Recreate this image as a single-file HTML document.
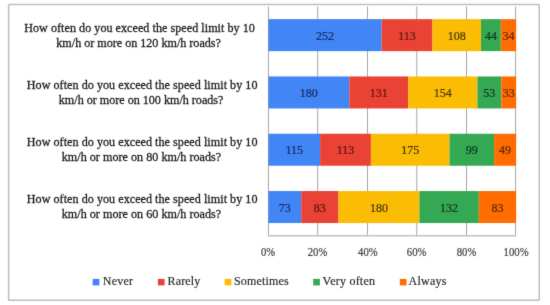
<!DOCTYPE html><html><head><meta charset="utf-8"><title>chart</title><style>html,body{margin:0;padding:0;background:#fff}svg{display:block}text{font-family:"Liberation Serif",serif;stroke-width:0.28px;paint-order:stroke fill}.c{fill:#1c1c1c;stroke:#1c1c1c}.d{fill:#222;stroke:#222;stroke-width:0.22px}.a{fill:#404040;stroke:#404040;stroke-width:0.22px}.l{fill:#2a2a2a;stroke:#2a2a2a;stroke-width:0.18px}</style></head><body>
<svg width="550" height="305" viewBox="0 0 550 305">
<defs><filter id="sf" x="0" y="0" width="550" height="305" filterUnits="userSpaceOnUse" color-interpolation-filters="sRGB"><feConvolveMatrix order="3" kernelMatrix="0.015 0.065 0.015 0.065 0.68 0.065 0.015 0.065 0.015" divisor="1" edgeMode="duplicate" preserveAlpha="true"/></filter></defs>
<g filter="url(#sf)">
<rect x="0" y="0" width="550" height="305" fill="#fff"/>
<rect x="8.6" y="4.55" width="530.65" height="295.65" rx="0.8" fill="#fff" stroke="#bebebe" stroke-width="1.5"/>
<line x1="268.45" y1="6.5" x2="268.45" y2="236.29999999999998" stroke="#a6a6a6" stroke-width="1"/>
<line x1="317.70" y1="6.5" x2="317.70" y2="236.29999999999998" stroke="#a6a6a6" stroke-width="1"/>
<line x1="367.50" y1="6.5" x2="367.50" y2="236.29999999999998" stroke="#a6a6a6" stroke-width="1"/>
<line x1="416.75" y1="6.5" x2="416.75" y2="236.29999999999998" stroke="#a6a6a6" stroke-width="1"/>
<line x1="466.50" y1="6.5" x2="466.50" y2="236.29999999999998" stroke="#a6a6a6" stroke-width="1"/>
<line x1="515.60" y1="6.5" x2="515.60" y2="236.29999999999998" stroke="#a6a6a6" stroke-width="1"/>
<line x1="267.9" y1="235.79999999999998" x2="516.1" y2="235.79999999999998" stroke="#c4c4c4" stroke-width="1.4"/>
<rect x="268.40" y="19.15" width="113.29" height="32.0" fill="#4285F4"/>
<text x="325.04" y="39.65" class="d" style="fill:#172c66;stroke:#172c66" font-size="12" text-anchor="middle">252</text>
<rect x="381.69" y="19.15" width="50.80" height="32.0" fill="#EA4335"/>
<text x="407.09" y="39.65" class="d" style="fill:#551812;stroke:#551812" font-size="12" text-anchor="middle">113</text>
<rect x="432.48" y="19.15" width="48.55" height="32.0" fill="#FBBC04"/>
<text x="456.76" y="39.65" class="d" style="fill:#46340a;stroke:#46340a" font-size="12" text-anchor="middle">108</text>
<rect x="481.04" y="19.15" width="19.78" height="32.0" fill="#34A853"/>
<text x="490.93" y="39.65" class="d" style="fill:#10381c;stroke:#10381c" font-size="12" text-anchor="middle">44</text>
<rect x="500.82" y="19.15" width="15.28" height="32.0" fill="#FF6D01"/>
<text x="508.46" y="39.65" class="d" style="fill:#5e280a;stroke:#5e280a" font-size="12" text-anchor="middle">34</text>
<text x="24.2" y="31.60" class="c" font-size="12.1" textLength="230.7" lengthAdjust="spacing">How often do you exceed the speed limit by 10</text>
<text x="56.3" y="46.65" class="c" font-size="12.1" textLength="164.6" lengthAdjust="spacing">km/h or more on 120 km/h roads?</text>
<rect x="268.40" y="76.45" width="80.92" height="32.0" fill="#4285F4"/>
<text x="308.86" y="96.95" class="d" style="fill:#172c66;stroke:#172c66" font-size="12" text-anchor="middle">180</text>
<rect x="349.32" y="76.45" width="58.89" height="32.0" fill="#EA4335"/>
<text x="378.76" y="96.95" class="d" style="fill:#551812;stroke:#551812" font-size="12" text-anchor="middle">131</text>
<rect x="408.21" y="76.45" width="69.23" height="32.0" fill="#FBBC04"/>
<text x="442.82" y="96.95" class="d" style="fill:#46340a;stroke:#46340a" font-size="12" text-anchor="middle">154</text>
<rect x="477.44" y="76.45" width="23.83" height="32.0" fill="#34A853"/>
<text x="489.35" y="96.95" class="d" style="fill:#10381c;stroke:#10381c" font-size="12" text-anchor="middle">53</text>
<rect x="501.26" y="76.45" width="14.84" height="32.0" fill="#FF6D01"/>
<text x="508.68" y="96.95" class="d" style="fill:#5e280a;stroke:#5e280a" font-size="12" text-anchor="middle">33</text>
<text x="26.8" y="88.90" class="c" font-size="12.1" textLength="230.7" lengthAdjust="spacing">How often do you exceed the speed limit by 10</text>
<text x="58.8" y="103.95" class="c" font-size="12.1" textLength="164.6" lengthAdjust="spacing">km/h or more on 100 km/h roads?</text>
<rect x="268.40" y="133.75" width="51.70" height="32.0" fill="#4285F4"/>
<text x="294.25" y="154.25" class="d" style="fill:#172c66;stroke:#172c66" font-size="12" text-anchor="middle">115</text>
<rect x="320.10" y="133.75" width="50.80" height="32.0" fill="#EA4335"/>
<text x="345.50" y="154.25" class="d" style="fill:#551812;stroke:#551812" font-size="12" text-anchor="middle">113</text>
<rect x="370.90" y="133.75" width="78.67" height="32.0" fill="#FBBC04"/>
<text x="410.23" y="154.25" class="d" style="fill:#46340a;stroke:#46340a" font-size="12" text-anchor="middle">175</text>
<rect x="449.57" y="133.75" width="44.51" height="32.0" fill="#34A853"/>
<text x="471.82" y="154.25" class="d" style="fill:#10381c;stroke:#10381c" font-size="12" text-anchor="middle">99</text>
<rect x="494.07" y="133.75" width="22.03" height="32.0" fill="#FF6D01"/>
<text x="505.09" y="154.25" class="d" style="fill:#5e280a;stroke:#5e280a" font-size="12" text-anchor="middle">49</text>
<text x="26.8" y="146.20" class="c" font-size="12.1" textLength="230.7" lengthAdjust="spacing">How often do you exceed the speed limit by 10</text>
<text x="61.7" y="161.25" class="c" font-size="12.1" textLength="159.5" lengthAdjust="spacing">km/h or more on 80 km/h roads?</text>
<rect x="268.40" y="191.05" width="32.82" height="32.0" fill="#4285F4"/>
<text x="284.81" y="211.55" class="d" style="fill:#172c66;stroke:#172c66" font-size="12" text-anchor="middle">73</text>
<rect x="301.22" y="191.05" width="37.31" height="32.0" fill="#EA4335"/>
<text x="319.87" y="211.55" class="d" style="fill:#551812;stroke:#551812" font-size="12" text-anchor="middle">83</text>
<rect x="338.53" y="191.05" width="80.92" height="32.0" fill="#FBBC04"/>
<text x="378.99" y="211.55" class="d" style="fill:#46340a;stroke:#46340a" font-size="12" text-anchor="middle">180</text>
<rect x="419.45" y="191.05" width="59.34" height="32.0" fill="#34A853"/>
<text x="449.12" y="211.55" class="d" style="fill:#10381c;stroke:#10381c" font-size="12" text-anchor="middle">132</text>
<rect x="478.79" y="191.05" width="37.31" height="32.0" fill="#FF6D01"/>
<text x="497.44" y="211.55" class="d" style="fill:#5e280a;stroke:#5e280a" font-size="12" text-anchor="middle">83</text>
<text x="26.8" y="202.70" class="c" font-size="12.1" textLength="230.7" lengthAdjust="spacing">How often do you exceed the speed limit by 10</text>
<text x="61.7" y="218.07" class="c" font-size="12.1" textLength="159.5" lengthAdjust="spacing">km/h or more on 60 km/h roads?</text>
<text transform="translate(268.05 255.8) scale(0.9 1)" x="0" y="0" class="a" font-size="11.9" text-anchor="middle">0%</text>
<text transform="translate(317.55 255.8) scale(0.9 1)" x="0" y="0" class="a" font-size="11.9" text-anchor="middle">20%</text>
<text transform="translate(367.85 255.8) scale(0.9 1)" x="0" y="0" class="a" font-size="11.9" text-anchor="middle">40%</text>
<text transform="translate(416.65 255.8) scale(0.9 1)" x="0" y="0" class="a" font-size="11.9" text-anchor="middle">60%</text>
<text transform="translate(466.55 255.8) scale(0.9 1)" x="0" y="0" class="a" font-size="11.9" text-anchor="middle">80%</text>
<text transform="translate(516.10 255.8) scale(0.9 1)" x="0" y="0" class="a" font-size="11.9" text-anchor="middle">100%</text>
<rect x="92.7" y="278.9" width="6.7" height="6.5" fill="#4285F4"/>
<text x="102.8" y="285.25" class="l" font-size="12" textLength="30.1" lengthAdjust="spacing">Never</text>
<rect x="157.9" y="278.9" width="6.7" height="6.5" fill="#EA4335"/>
<text x="167.6" y="285.25" class="l" font-size="12" textLength="32.6" lengthAdjust="spacing">Rarely</text>
<rect x="224.7" y="278.9" width="6.7" height="6.5" fill="#FBBC04"/>
<text x="234.0" y="285.25" class="l" font-size="12" textLength="54.6" lengthAdjust="spacing">Sometimes</text>
<rect x="313.2" y="278.9" width="6.7" height="6.5" fill="#34A853"/>
<text x="322.6" y="285.25" class="l" font-size="12" textLength="52.4" lengthAdjust="spacing">Very often</text>
<rect x="399.8" y="278.9" width="6.7" height="6.5" fill="#FF6D01"/>
<text x="408.6" y="285.25" class="l" font-size="12" textLength="37.9" lengthAdjust="spacing">Always</text>
</g></svg></body></html>
